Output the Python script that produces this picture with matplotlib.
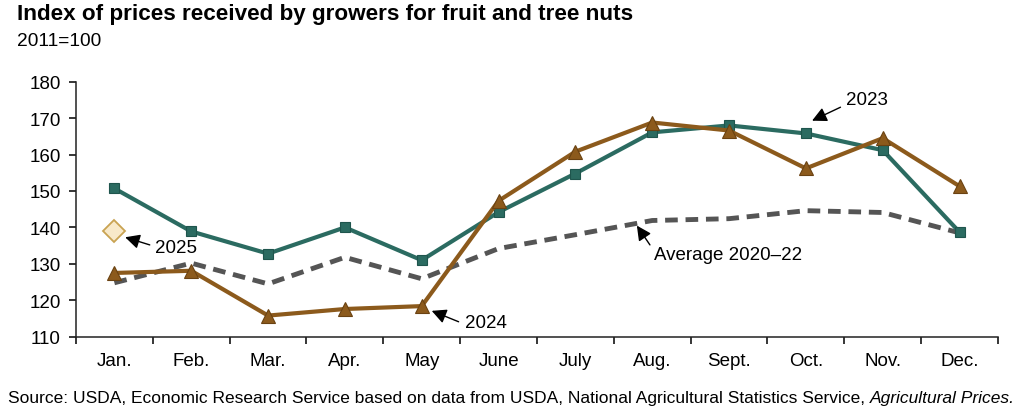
import numpy as np
import matplotlib
matplotlib.use("Agg")
import matplotlib.pyplot as plt
from matplotlib import font_manager

months = ["Jan.", "Feb.", "Mar.", "Apr.", "May", "June", "July", "Aug.", "Sept.", "Oct.", "Nov.", "Dec."]
y2023 = [150.7, 138.9, 132.8, 140.0, 131.0, 144.2, 154.8, 166.1, 168.0, 165.8, 161.2, 138.7]
y2024 = [127.5, 128.1, 115.8, 117.6, 118.4, 147.3, 160.8, 168.8, 166.6, 156.2, 164.5, 151.3]
avg2020_22 = [124.8, 130.2, 124.5, 131.8, 125.9, 134.2, 138.0, 141.9, 142.4, 144.6, 144.1, 138.5]
y2025 = [139.1]

teal = "#2b6b61"
brown = "#8c5a1c"

names = {f.name for f in font_manager.fontManager.ttflist}
base = "Liberation Sans" if "Liberation Sans" in names else "DejaVu Sans"
plt.rcParams["font.family"] = [base, "DejaVu Sans"]

fig = plt.figure(figsize=(10.24, 4.14), dpi=100)
ax = fig.add_axes([0.0742, 0.1843, 0.9004, 0.6159])

x = np.arange(len(months))
ax.plot(x, avg2020_22, color="#555555", lw=3.5, dashes=(2.6, 1.6), zorder=2)
ax.plot(x, y2023, color=teal, lw=3, marker="s", ms=7.5, mfc=teal,
        mec="#1f554d", mew=0.8, zorder=3)
ax.plot(x, y2024, color=brown, lw=3, marker="^", ms=10.5, mfc=brown,
        mec="#6a4212", mew=0.8, zorder=4)
ax.plot(x[:len(y2025)], y2025, ls="none", marker="D", ms=11, mfc="#f8e9c9",
        mec="#c9a352", mew=1.3, zorder=5)

ax.set_xlim(-0.5, 11.5)
ax.set_ylim(110, 180)
ax.set_yticks(np.arange(110, 181, 10))
ax.set_xticks(np.arange(-0.5, 12, 1))
ax.set_xticklabels([])
ax.set_xticks(x, minor=True)
ax.set_xticklabels(months, minor=True)
ax.tick_params(axis="x", which="major", length=5, width=1.1, direction="out")
ax.tick_params(axis="x", which="minor", length=0, pad=11, labelsize=13.5)
ax.tick_params(axis="y", length=5, width=1.1, pad=6, labelsize=13.5)
for s in ["top", "right"]:
    ax.spines[s].set_visible(False)
for s in ["left", "bottom"]:
    ax.spines[s].set_linewidth(1.1)
    ax.spines[s].set_color("#222222")

arrow = dict(arrowstyle="-|>", color="black", lw=1.0, mutation_scale=22,
             shrinkA=0, shrinkB=0)
notes = [
    ("2023", (9.08, 169.3), (9.45, 173.0), (9.52, 175.1)),
    ("2024", (4.13, 117.1), (4.48, 114.1), (4.56, 113.9)),
    ("2025", (0.14, 137.3), (0.46, 135.2), (0.53, 134.5)),
    ("Average 2020\u201322", (6.80, 140.5), (6.97, 135.2), (7.02, 132.7)),
]
for label, tip, tail, pos in notes:
    ax.annotate("", xy=tip, xytext=tail, arrowprops=arrow, zorder=6)
    ax.text(pos[0], pos[1], label, fontsize=13.5, ha="left", va="center", zorder=6)

fig.text(0.0166, 0.966, "Index of prices received by growers for fruit and tree nuts",
         fontsize=16.2, fontweight="bold", ha="left", va="center")
fig.text(0.0166, 0.899, "2011=100", fontsize=13.8, ha="left", va="center")

# source line: regular part plus italic title, scaled to span the width
src_main = ("Source: USDA, Economic Research Service based on data from USDA, "
            "National Agricultural Statistics Service, ")
src_ital = "Agricultural Prices."
renderer = fig.canvas.get_renderer()
size = 12.0
t1 = fig.text(0.0078, 0.038, src_main, fontsize=size, ha="left", va="center")
t2 = fig.text(0, 0.038, src_ital, fontsize=size, style="italic", ha="left", va="center")
w = t1.get_window_extent(renderer).width + t2.get_window_extent(renderer).width
size = size * 1006 / w
t1.set_fontsize(size)
t2.set_fontsize(size)
w1 = t1.get_window_extent(renderer).width
t2.set_x(0.0078 + w1 / fig.bbox.width)

fig.savefig("out.png", dpi=100)
